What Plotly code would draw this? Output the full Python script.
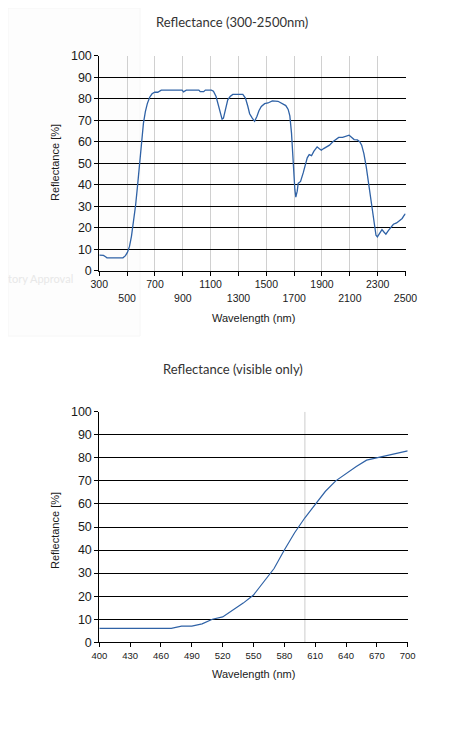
import plotly.graph_objects as go

# The page body has an 8px margin, so the figure is sized and positioned to fit inside it.
OFF = 8
W, H = 473 - OFF, 735 - OFF

# ---- data: full range (300-2500 nm) ----
wl_full = [300, 330, 345, 355, 470, 488, 502, 517, 531, 545, 560, 574, 588, 602, 617,
           631, 645, 662, 679, 698, 720, 745, 770, 895, 905, 925, 1015, 1025, 1050, 1062,
           1105, 1120, 1139, 1158, 1170, 1182, 1192, 1206, 1223, 1240, 1259, 1331, 1350,
           1367, 1380, 1399, 1416, 1433, 1447, 1464, 1488, 1512, 1524, 1543, 1584, 1608,
           1640, 1657, 1669, 1681, 1693, 1705, 1712, 1722, 1729, 1746, 1765, 1778, 1794,
           1808, 1825, 1841, 1865, 1879, 1895, 1912, 1935, 1954, 1978, 2001, 2020, 2048,
           2072, 2095, 2114, 2131, 2154, 2171, 2185, 2201, 2218, 2236, 2255, 2272, 2288,
           2298, 2312, 2331, 2345, 2359, 2378, 2396, 2413, 2436, 2460, 2476, 2491, 2500]
refl_full = [7.2, 7.1, 6.5, 6, 6, 7, 8.5, 11.3, 16, 22, 30, 39, 49, 60, 68.5,
             74, 77.7, 80.7, 82.3, 83, 83, 84, 84, 84, 83.2, 84, 84, 83.3, 83.3, 84,
             84, 83.5, 81, 76.5, 72.5, 70.5, 71, 75, 79.5, 81, 82, 82, 80.3,
             76.5, 73, 71, 69.5, 71.8, 74.4, 76.4, 77.7, 78, 78.3, 79, 78.8, 78,
             76.8, 75, 72, 64, 48.6, 37.8, 34.2, 37, 40.6, 41.5, 45.5, 49, 52.5,
             54, 53.5, 55.5, 57.6, 56.8, 56, 56.8, 57.6, 58.4, 60, 61, 62, 62,
             62.7, 63, 62, 61, 60.8, 60, 58.4, 54.5, 48.3, 40.5, 31.2, 23.5, 16.5,
             15.7, 17.3, 19.1, 18, 17, 18.8, 20, 21.6, 22.2, 23.5, 24.3, 25.8, 26.5]

# ---- data: visible only (400-700 nm) ----
wl_vis = [400, 410, 420, 430, 440, 450, 460, 470, 480, 490, 500, 510, 520, 530, 540,
          550, 560, 570, 580, 590, 600, 610, 620, 630, 640, 650, 660, 670, 680, 690, 700]
refl_vis = [6, 6, 6, 6, 6, 6, 6, 6, 7, 7, 8, 10, 11, 14, 17,
            20.5, 26, 32, 40, 47.5, 54, 60, 65.5, 70, 73.2, 76.2, 79, 80, 81, 82, 83]

# ---- tick labels ----
full_tickvals = [300, 500, 700, 900, 1100, 1300, 1500, 1700, 1900, 2100, 2300, 2500]
full_ticktext = ["300", "<br>500", "700", "<br>900", "1100", "<br>1300", "1500",
                 "<br>1700", "1900", "<br>2100", "2300", "<br>2500"]
vis_tickvals = [400, 430, 460, 490, 520, 550, 580, 610, 640, 670, 700]
vis_ticktext = ["400", "430", "460", "490", "520", "550", "580", "610", "640", "670", "700"]
y_tickvals = [0, 10, 20, 30, 40, 50, 60, 70, 80, 90, 100]

LINE = "#2f62a6"
TICKFONT = "Liberation Sans, Arial, sans-serif"
TITLEFONT = "Lato, Open Sans, sans-serif"

fig = go.Figure()
fig.add_trace(go.Scatter(x=wl_full, y=refl_full, mode="lines",
                         line=dict(color=LINE, width=1.3), xaxis="x", yaxis="y",
                         showlegend=False, hoverinfo="skip"))
fig.add_trace(go.Scatter(x=wl_vis, y=refl_vis, mode="lines",
                         line=dict(color=LINE, width=1.2), xaxis="x2", yaxis="y2",
                         showlegend=False, hoverinfo="skip"))

def px(x):
    return (x - OFF) / W

def py(y):
    return 1 - (y - OFF) / H

yaxis_common = dict(range=[0, 100], tickvals=y_tickvals, showgrid=True, gridcolor="#000000",
                    gridwidth=1, showline=True, linecolor="#000000", linewidth=1,
                    ticks="outside", ticklen=4, tickcolor="#000000",
                    tickfont=dict(family=TICKFONT, size=12.5, color="#1a1a1a"),
                    zeroline=False, fixedrange=True, automargin=False)

fig.update_layout(
    width=W, height=H,
    margin=dict(l=0, r=0, t=0, b=0),
    paper_bgcolor="white", plot_bgcolor="white",
    xaxis=dict(domain=[px(99.3), px(405.5)], range=[300, 2500], tickvals=full_tickvals,
               ticktext=full_ticktext, showgrid=True, gridcolor="#d0d0d0", gridwidth=1,
               showline=True, linecolor="#000000", linewidth=1, ticks="outside", ticklen=4,
               tickcolor="#000000", tickangle=0,
               tickfont=dict(family=TICKFONT, size=10.5, color="#1a1a1a"),
               zeroline=False, anchor="y", automargin=False),
    yaxis=dict(domain=[py(270.7), py(55.7)], anchor="x", **yaxis_common),
    xaxis2=dict(domain=[px(99.3), px(407.7)], range=[400, 700], tickvals=vis_tickvals,
                ticktext=vis_ticktext, showgrid=False,
                showline=True, linecolor="#000000", linewidth=1, ticks="outside", ticklen=4,
                tickcolor="#000000", tickangle=0,
                tickfont=dict(family=TICKFONT, size=9.5, color="#1a1a1a"),
                zeroline=False, anchor="y2", automargin=False),
    yaxis2=dict(domain=[py(642.3), py(411.7)], anchor="x2", **yaxis_common),
)

# faint background panel and clipped text from the page behind the chart
fig.add_shape(type="rect", xref="paper", yref="paper", x0=0, x1=px(140), y0=py(336), y1=1,
              fillcolor="#fdfdfd", line=dict(color="#f6f6f6", width=1), layer="below")
fig.add_annotation(x=px(75), y=py(278), xref="paper", yref="paper", xanchor="right",
                   yanchor="middle", showarrow=False, text="tory Approval",
                   font=dict(family=TITLEFONT, size=11, color="#e8e8e8"))

# single light vertical line on the visible chart
fig.add_shape(type="line", xref="x2", yref="y2", x0=600, x1=600, y0=0, y1=100,
              line=dict(color="#cccccc", width=1), layer="below")

# titles
fig.add_annotation(x=px(232), y=py(22), xref="paper", yref="paper", showarrow=False,
                   text="Reflectance (300-2500nm)", xanchor="center", yanchor="middle",
                   font=dict(family=TITLEFONT, size=13, color="#333333"))
fig.add_annotation(x=px(233), y=py(369), xref="paper", yref="paper", showarrow=False,
                   text="Reflectance (visible only)", xanchor="center", yanchor="middle",
                   font=dict(family=TITLEFONT, size=13, color="#333333"))

# axis titles
for ytxt, xtxt in [(318, "Wavelength (nm)"), (674, "Wavelength (nm)")]:
    fig.add_annotation(x=px(253), y=py(ytxt), xref="paper", yref="paper", showarrow=False,
                       text=xtxt, xanchor="center", yanchor="middle",
                       font=dict(family=TICKFONT, size=11, color="#1a1a1a"))
for yc in [163, 531]:
    fig.add_annotation(x=px(55), y=py(yc), xref="paper", yref="paper", showarrow=False,
                       text="Reflectance [%]", textangle=-90, xanchor="center",
                       yanchor="middle",
                       font=dict(family=TICKFONT, size=11, color="#1a1a1a"))

fig.write_html("out.html")
